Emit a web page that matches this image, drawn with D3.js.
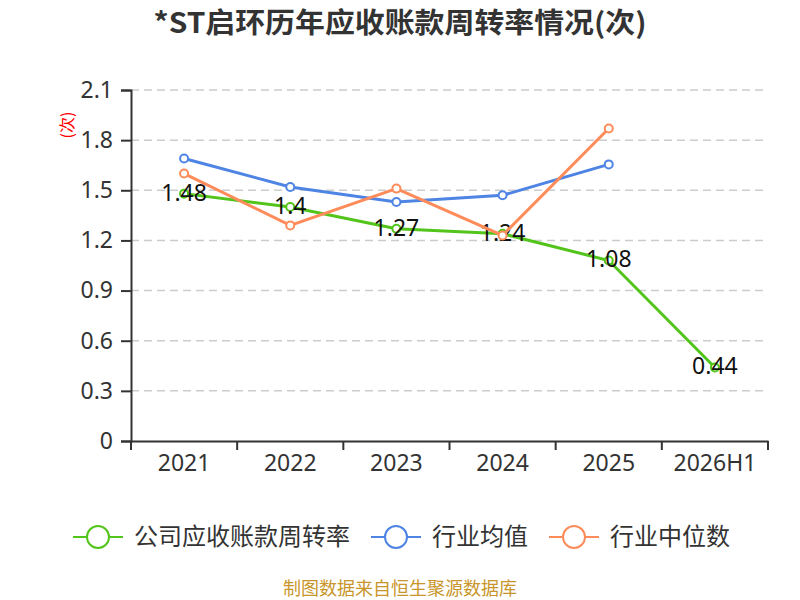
<!DOCTYPE html>
<html>
<head>
<meta charset="utf-8">
<script src="https://cdn.jsdelivr.net/npm/d3@7"></script>
<style>
  body { margin: 0; background: #fff; }
  svg { font-family: "Noto Sans CJK SC", "Noto Sans", sans-serif; }
</style>
</head>
<body>
<div id="chart"></div>
<script>
// 数据
const years = ['2021', '2022', '2023', '2024', '2025', '2026H1']
const company = [1.48, 1.4, 1.27, 1.24, 1.08, 0.44]
const industryAvg = [1.69, 1.52, 1.43, 1.47, 1.655, null]
const industryMid = [1.60, 1.29, 1.51, 1.23, 1.87, null]
const yTicks = [0, 0.3, 0.6, 0.9, 1.2, 1.5, 1.8, 2.1]

const width = 800
const height = 600
const margin = { top: 90, right: 32, bottom: 159, left: 131 }

const svg = d3.select('#chart')
  .append('svg')
  .attr('width', width)
  .attr('height', height)

const x = d3.scaleBand()
  .domain(years)
  .range([margin.left, width - margin.right])

const y = d3.scaleLinear()
  .domain([0, 2.1])
  .range([height - margin.bottom, margin.top])

// 标题
svg.append('text')
  .attr('x', 400)
  .attr('y', 33)
  .attr('text-anchor', 'middle')
  .attr('font-size', 28)
  .attr('font-weight', 'bold')
  .attr('fill', '#333')
  .attr('textLength', 493)
  .attr('lengthAdjust', 'spacingAndGlyphs')
  .text('*ST启环历年应收账款周转率情况(次)')

// 网格线
svg.append('g')
  .selectAll('line')
  .data(yTicks.filter(d => d > 0))
  .join('line')
  .attr('x1', margin.left)
  .attr('x2', width - margin.right)
  .attr('y1', d => y(d))
  .attr('y2', d => y(d))
  .attr('stroke', '#ccc')
  .attr('stroke-width', 1.5)
  .attr('stroke-dasharray', '8,5')

// y轴
const yAxis = svg.append('g')
  .attr('transform', `translate(${margin.left},0)`)
  .call(d3.axisLeft(y).tickValues(yTicks).tickFormat(d => d === 0 ? '0' : d3.format('.1f')(d)).tickSize(10).tickPadding(8))
yAxis.select('.domain').attr('stroke', '#333').attr('stroke-width', 2)
yAxis.selectAll('.tick line').attr('stroke', '#333').attr('stroke-width', 2)
yAxis.selectAll('.tick text').attr('font-size', 23).attr('fill', '#333')
  .attr('font-family', '"Noto Sans", sans-serif')

// y轴单位
svg.append('text')
  .attr('transform', 'translate(69,125) rotate(-90)')
  .attr('text-anchor', 'middle')
  .attr('dominant-baseline', 'middle')
  .attr('font-size', 16)
  .attr('fill', 'red')
  .text('(次)')

// x轴
const xAxis = svg.append('g')
  .attr('transform', `translate(0,${height - margin.bottom})`)
  .call(d3.axisBottom(x).tickSize(0).tickPadding(14))
xAxis.select('.domain').attr('stroke', '#333').attr('stroke-width', 2)
xAxis.selectAll('.tick text').attr('font-size', 23).attr('fill', '#333')
  .attr('font-family', '"Noto Sans", sans-serif')
// x轴刻度（类别边界）
svg.append('g')
  .selectAll('line')
  .data(years.map(d => x(d)).concat([x(years[years.length - 1]) + x.bandwidth()]))
  .join('line')
  .attr('x1', d => d)
  .attr('x2', d => d)
  .attr('y1', height - margin.bottom)
  .attr('y2', height - margin.bottom + 9)
  .attr('stroke', '#333')
  .attr('stroke-width', 2)

const cx = d => x(d) + x.bandwidth() / 2

function drawSeries(values, color) {
  const pts = years.map((d, i) => ({ year: d, v: values[i] })).filter(p => p.v != null)
  const line = d3.line().x(p => cx(p.year)).y(p => y(p.v))
  const g = svg.append('g')
  g.append('path')
    .datum(pts)
    .attr('d', line)
    .attr('fill', 'none')
    .attr('stroke', color)
    .attr('stroke-width', 3)
  g.selectAll('circle')
    .data(pts)
    .join('circle')
    .attr('cx', p => cx(p.year))
    .attr('cy', p => y(p.v))
    .attr('r', 4)
    .attr('fill', '#fff')
    .attr('stroke', color)
    .attr('stroke-width', 2)
  return g
}

drawSeries(company, '#52c41a')
// 数据标签
svg.append('g')
  .selectAll('text')
  .data(company)
  .join('text')
  .attr('x', (d, i) => cx(years[i]))
  .attr('y', d => y(d))
  .attr('dy', '0.3em')
  .attr('text-anchor', 'middle')
  .attr('font-size', 23)
  .attr('fill', '#111')
  .attr('font-family', '"Noto Sans", sans-serif')
  .text(d => d)
drawSeries(industryAvg, '#4e84e4')
drawSeries(industryMid, '#fe8c5a')

// 图例
const legend = [
  { name: '公司应收账款周转率', color: '#52c41a', x: 73 },
  { name: '行业均值', color: '#4e84e4', x: 371 },
  { name: '行业中位数', color: '#fe8c5a', x: 549 }
]
const lg = svg.append('g')
legend.forEach(l => {
  const g = lg.append('g').attr('transform', `translate(${l.x},537)`)
  g.append('line').attr('x1', 0).attr('x2', 50).attr('y1', 0).attr('y2', 0)
    .attr('stroke', l.color).attr('stroke-width', 2)
  g.append('circle').attr('cx', 25).attr('cy', 0).attr('r', 11)
    .attr('fill', '#fff').attr('stroke', l.color).attr('stroke-width', 2)
  g.append('text').attr('x', 61).attr('y', 0).attr('dy', '0.35em')
    .attr('font-size', 24).attr('fill', '#333').text(l.name)
})

// 数据来源
svg.append('text')
  .attr('x', 400)
  .attr('y', 590)
  .attr('text-anchor', 'middle')
  .attr('dominant-baseline', 'middle')
  .attr('font-size', 18)
  .attr('fill', '#c8962a')
  .text('制图数据来自恒生聚源数据库')
</script>
</body>
</html>
